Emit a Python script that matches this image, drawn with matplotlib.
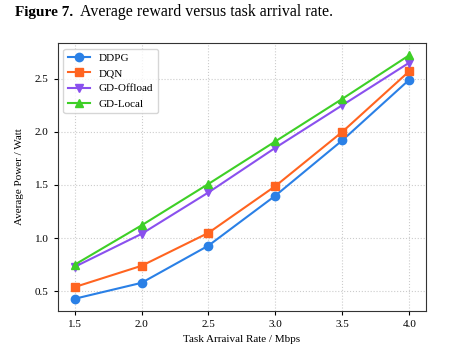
import matplotlib
matplotlib.use("Agg")
import matplotlib.pyplot as plt

x = [1.5, 2.0, 2.5, 3.0, 3.5, 4.0]
ddpg = [0.43, 0.58, 0.93, 1.40, 1.92, 2.49]
dqn = [0.54, 0.74, 1.05, 1.49, 2.00, 2.57]
gd_offload = [0.73, 1.04, 1.43, 1.85, 2.25, 2.65]
gd_local = [0.75, 1.12, 1.51, 1.91, 2.31, 2.72]
labels = ["DDPG", "DQN", "GD-Offload", "GD-Local"]

plt.rcParams['font.family'] = ['Liberation Serif', 'DejaVu Serif']

fig = plt.figure(figsize=(4.74, 3.55), dpi=100)
ax = fig.add_axes([0.122, 0.124, 0.777, 0.755])

series = [ddpg, dqn, gd_offload, gd_local]
colors = ['#2a80e6', '#ff6420', '#8a50ee', '#3ecf27']
markers = ['o', 's', 'v', '^']
for s, c, m, l in zip(series, colors, markers, labels):
    ax.plot(x, s, color=c, marker=m, markersize=6, linewidth=1.5, label=l)

ax.grid(True, linestyle=':', color='#cccccc', linewidth=0.8)
ax.set_xticks(x)
ax.set_yticks([0.5, 1.0, 1.5, 2.0, 2.5])
ax.tick_params(labelsize=8, direction='out', length=3)
ax.set_xlabel('Task Arraival Rate / Mbps', fontsize=8)
ax.set_ylabel('Average Power / Watt', fontsize=8, labelpad=8)
for sp in ax.spines.values():
    sp.set_color('#333333')
ax.legend(loc='upper left', fontsize=8, frameon=True, fancybox=True, edgecolor='#cccccc')

fig.text(0.032, 0.965, r'Figure 7.', fontsize=11, fontweight='bold', va='center', ha='left')
fig.text(0.168, 0.965, 'Average reward versus task arrival rate.', fontsize=11.4, va='center', ha='left')

fig.savefig('out.png', dpi=100)
